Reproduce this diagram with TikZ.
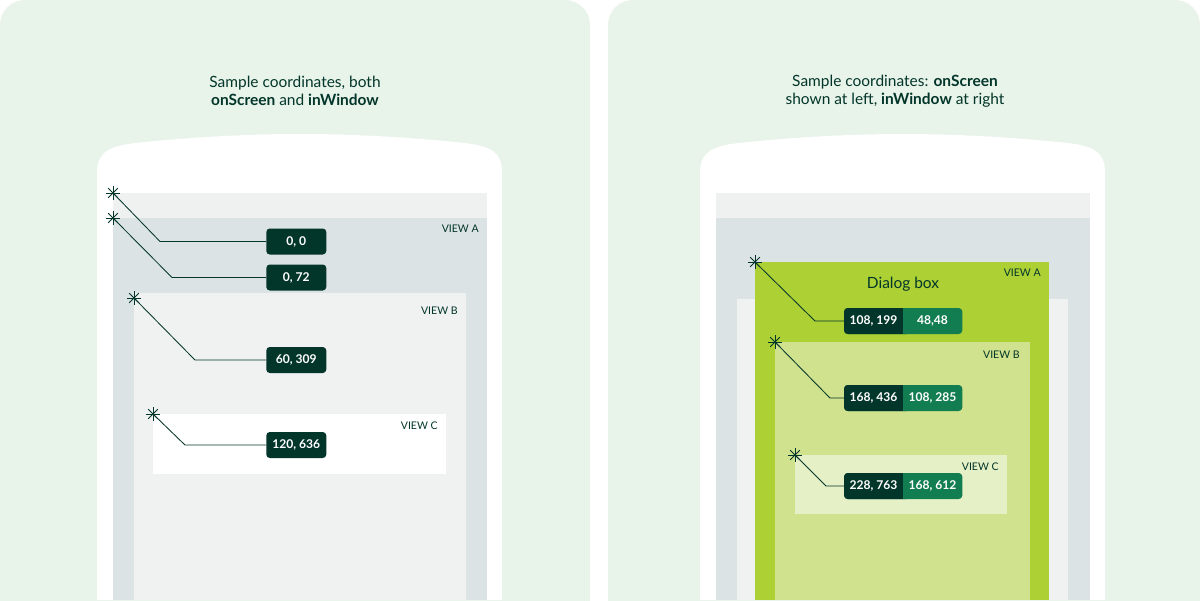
\documentclass[tikz,border=0pt]{standalone}
\usepackage{fontspec}
\setmainfont{Lato}
\definecolor{panel}{HTML}{E8F3EA}
\definecolor{sbar}{HTML}{EFF1F0}
\definecolor{va}{HTML}{DCE3E4}
\definecolor{vb}{HTML}{F0F2F1}
\definecolor{dk}{HTML}{03362A}
\definecolor{gr}{HTML}{137D52}
\definecolor{da}{HTML}{ADD035}
\definecolor{db}{HTML}{D0E28E}
\definecolor{dc}{HTML}{E6F0C7}
\begin{document}
\begin{tikzpicture}[x=0.025cm,y=-0.025cm,
  pill/.style={fill=dk,rounded corners=2.5pt,text=white,font=\bfseries\fontsize{8.6}{9}\selectfont,minimum height=26*0.025cm,minimum width=60*0.025cm,inner sep=0pt,anchor=west},
  pl/.style={fill=dk,text=white,minimum height=26*0.025cm,minimum width=59*0.025cm,inner sep=0pt,anchor=west,rounded corners=2.5pt},
  ptx/.style={text=white,font=\bfseries\fontsize{8.6}{9}\selectfont},
  vlab/.style={font=\fontsize{7.5}{8}\selectfont,text=dk,anchor=east,inner sep=0pt},
  ttl/.style={font=\fontsize{11}{13}\selectfont,text=dk,align=center},
  lead/.style={draw=dk,line width=0.6pt}]
\useasboundingbox (0,0) rectangle (1200,600);
\fill[white] (0,0) rectangle (1200,600);
\newcommand{\mystar}[1]{\foreach \a in {0,45,...,315}{\draw[dk,line width=0.6pt] (#1) -- ++(\a:0.17cm);}}
% panels
\fill[panel,rounded corners=25*0.025cm] (0,0) rectangle (590,640);
\fill[panel,rounded corners=25*0.025cm] (608,0) rectangle (1200,640);
% phones
\foreach \o in {0,603}{
\fill[white] (97+\o,600) -- (97+\o,172) .. controls (97+\o,152) and (110+\o,146) .. (135+\o,143) .. controls (250+\o,131) and (350+\o,131) .. (465+\o,143) .. controls (490+\o,146) and (502+\o,152) .. (502+\o,172) -- (502+\o,600) -- cycle;
\fill[sbar] (113+\o,193) rectangle (487+\o,218);
\fill[va] (113+\o,218) rectangle (487+\o,600);
}
\node[ttl] (t1) at (295,91) {Sample coordinates, both\\\textbf{onScreen} and \textbf{inWindow}};
\node[ttl] (t2) at (895,91) {Sample coordinates: \textbf{onScreen}\\shown at left, \textbf{inWindow} at right};
% left views
\fill[vb] (134,293) rectangle (466,600);
\fill[white] (153,414) rectangle (446,474);
\node[vlab] (la) at (479,229) {VIEW A};
\node[vlab] (lb) at (458,311) {VIEW B};
\node[vlab] (lc) at (438,426) {VIEW C};
\node[pill] (p1) at (266,241.5) {0, 0};
\node[pill] (p2) at (266,277.5) {0, 72};
\node[pill] (p3) at (266,360) {60, 309};
\node[pill] (p4) at (266,445) {120, 636};
\coordinate (s1) at (113,193); \coordinate (b1) at (160,241.5);
\coordinate (s2) at (113,218); \coordinate (b2) at (172,277.5);
\coordinate (s3) at (134,298); \coordinate (b3) at (195,360);
\coordinate (s4) at (153,414); \coordinate (b4) at (185,445);
\foreach \i in {1,2,3,4}{\draw[lead] (s\i) -- (b\i) -- (p\i.west); \mystar{s\i}}
% right views
\fill[vb] (737,299) rectangle (1068,600);
\fill[da] (755,262) rectangle (1049,600);
\fill[db] (775,342) rectangle (1030,600);
\fill[dc] (795,455) rectangle (1007,514);
\node[font=\fontsize{11}{12}\selectfont,text=dk] (dl) at (903,284) {Dialog box};
\node[vlab] (ra) at (1041,273) {VIEW A};
\node[vlab] (rb) at (1020,355) {VIEW B};
\node[vlab] (rc) at (999,467) {VIEW C};
\foreach \i/\y/\l/\r in {1/321/{108, 199}/{48,48},2/398/{168, 436}/{108, 285},3/486/{228, 763}/{168, 612}}{
  \node[pl,fill=gr,minimum width=118*0.025cm] (g\i) at (844,\y) {};
  \fill[dk,rounded corners=2.5pt] (844,\y-13) rectangle (910,\y+13);
  \fill[dk] (895,\y-13) rectangle (903,\y+13);
  \fill[gr] (903,\y-13) rectangle (912,\y+13);
  \node[ptx] (q\i) at (873.5,\y) {\l};
  \node[ptx] (r\i) at (932.5,\y) {\r};
}
\coordinate (u1) at (755,262); \coordinate (c1) at (815,321);
\coordinate (u2) at (775,342); \coordinate (c2) at (830,398);
\coordinate (u3) at (795,455); \coordinate (c3) at (826,486);
\foreach \i in {1,2,3}{\draw[lead] (u\i) -- (c\i) -- (g\i.west); \mystar{u\i}}
\end{tikzpicture}
\end{document}
